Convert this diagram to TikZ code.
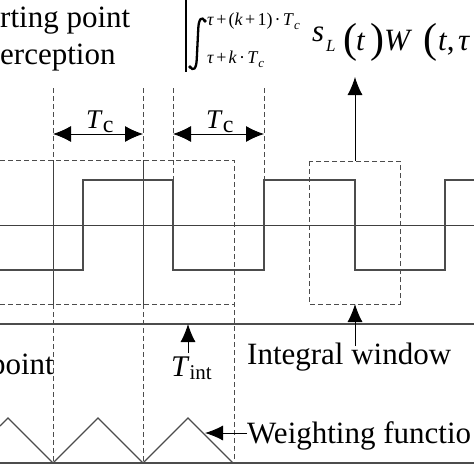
\documentclass[tikz,border=0pt]{standalone}
\usepackage{fontspec}
\setmainfont{Liberation Serif}
\usetikzlibrary{arrows.meta}
\newcommand{\lsp}{\hspace{2.2pt}}
\begin{document}
\begin{tikzpicture}[x=1pt,y=-1pt,
  wave/.style={line width=1.1pt, draw=black!70},
  solidline/.style={line width=0.9pt, draw=black!75},
  dashline/.style={line width=0.9pt, draw=black!70, dash pattern=on 5pt off 3pt},
  arr/.style={-{Latex[length=18pt,width=15pt]}, line width=0.9pt, draw=black},
  dblarr/.style={{Latex[length=18pt,width=16pt]}-{Latex[length=18pt,width=16pt]}, line width=0.9pt, draw=black},
  big/.style={font=\fontsize{31}{37}\selectfont, inner sep=0pt, anchor=base west},
  lim/.style={font=\fontsize{18}{22}\selectfont, inner sep=0pt, anchor=base west},
  paren/.style={font=\fontsize{42}{46}\selectfont, inner sep=0pt, anchor=base west},
]
\useasboundingbox (0,0) rectangle (474,474);
\clip (0,0) rectangle (474,474);

% ---- coordinates ----
\coordinate (v1t) at (53,88);  \coordinate (v1a) at (53,160); \coordinate (v1b) at (53,304); \coordinate (v1e) at (53,463);
\coordinate (v2t) at (143,88); \coordinate (v2a) at (143,160); \coordinate (v2b) at (143,304); \coordinate (v2e) at (143,463);
\coordinate (v3t) at (173,88); \coordinate (v3e) at (173,180);
\coordinate (v4t) at (264,88); \coordinate (v4e) at (264,180);
\coordinate (tc1a) at (53,134); \coordinate (tc1b) at (143,134);
\coordinate (tc2a) at (173,134); \coordinate (tc2b) at (264,134);

% ---- dashed guide lines ----
\draw[dashline] (v1t) -- (v1a);
\draw[dashline] (v1b) -- (v1e);
\draw[dashline] (v2t) -- (v2a);
\draw[dashline] (v2b) -- (v2e);
\draw[solidline] (v1a) -- (v1b);
\draw[solidline] (v2a) -- (v2b);
\draw[dashline] (v3t) -- (v3e);
\draw[dashline] (v4t) -- (v4e);

% big dashed window (left)
\draw[dashline] (0,160) -- (234,160) -- (234,463);
\draw[dashline] (0,304) -- (234,304);

% small dashed window (right)
\draw[dashline] (309,161) rectangle (400,304);
\coordinate (winTop) at (355,161);
\coordinate (winBot) at (355,304);

% axis
\draw[solidline] (0,225) -- (474,225);

% square wave
\draw[wave] (0,270) -- (83,270) -- (83,180) -- (173,180) -- (173,270) -- (264,270)
  -- (264,180) -- (355,180) -- (355,270) -- (445,270) -- (445,180) -- (474,180);

% integral window line
\draw[wave] (0,324) -- (474,324);
% baseline of weighting function
\draw[wave] (0,463) -- (474,463);
% weighting triangles
\draw[wave] (0,426) -- (8,418) -- (53,463) -- (98,418) -- (143,463) -- (188,418) -- (233,463);

% ---- Tc arrows ----
\draw[dblarr] (tc1a) -- (tc1b);
\draw[dblarr] (tc2a) -- (tc2b);
\node[big, font=\fontsize{27}{30}\selectfont] (tc1) at (86,128) {\textit{T}\raisebox{-4pt}{\fontsize{24}{26}\selectfont c}};
\node[big, font=\fontsize{27}{30}\selectfont] (tc2) at (206,128) {\textit{T}\raisebox{-4pt}{\fontsize{24}{26}\selectfont c}};

% ---- arrow up to formula ----
\coordinate (formArr) at (355,77);
\draw[arr] (winTop) -- (formArr);

% ---- arrow to small window ----
\coordinate (iwStart) at (355,346);
\draw[arr] (iwStart) -- (winBot);

% ---- Tint arrow ----
\coordinate (tintStart) at (188,353);
\coordinate (tintTip) at (188,324);
\draw[arr] (tintStart) -- (tintTip);
\node[big, font=\fontsize{30}{33}\selectfont] (tint) at (171,376) {\textit{T}\raisebox{-3pt}{\fontsize{21}{24}\selectfont int}};

% ---- weighting arrow ----
\coordinate (wStart) at (247,433);
\coordinate (wTip) at (205,433);
\draw[arr] (wStart) -- (wTip);

% ---- texts ----
\node[big] (t1) at (0,27) {rting point};
\node[big] (t2) at (0,64) {erception};
\node[big, anchor=base east] (t3) at (54,374) {point};
\node[big] (t4) at (247,364) {Integral window};
\node[big] (t5) at (247,443) {Weighting functio};

% ---- formula ----
\coordinate (barTop) at (186,0);
\coordinate (barBot) at (186,72);
\draw[line width=1.3pt] (barTop) -- (barBot);
% integral sign drawn as a stroke with ball ends
\coordinate (intTop) at (205,21);
\coordinate (intBot) at (190,67);
\draw[line width=2.3pt, line cap=round] (intTop) .. controls (202,16) and (198.5,18) .. (198.2,30)
  -- (196.8,58) .. controls (196.5,70) and (193,71) .. (intBot);
\fill (intTop) circle (1.9pt);
\fill (intBot) circle (1.9pt);
\node[lim] (uplim) at (207,25) {\textit{τ}\lsp+\lsp(\textit{k}\lsp+\lsp1)\lsp·\lsp\textit{T}\raisebox{-4pt}{\fontsize{13}{15}\selectfont\textit{c}}};
\node[lim] (lolim) at (207,63) {\textit{τ}\lsp+\lsp\textit{k}\lsp·\lsp\textit{T}\raisebox{-4pt}{\fontsize{13}{15}\selectfont\textit{c}}};
\node[big] (fs) at (312,41) {\textit{s}};
\node[big, font=\fontsize{17}{20}\selectfont] (fL) at (326,51) {\textit{L}};
\node[paren] (p1) at (343,52) {(};
\node[big] (ft) at (356,50) {\textit{t}};
\node[paren] (p2) at (370,52) {)};
\node[big] (fW) at (384,50) {\textit{W}};
\node[paren] (p3) at (423,52) {(};
\node[big] (ft2) at (438,50) {\textit{t},};
\node[big] (ftau) at (458,50) {\textit{τ}};
\end{tikzpicture}
\end{document}
